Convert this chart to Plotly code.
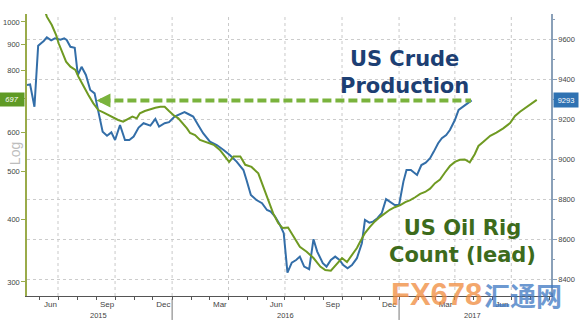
import math
import plotly.graph_objects as go

# Weekly US crude oil production (thousand barrels per day) - right axis
prod_dates = [
    "2015-05-12", "2015-05-17", "2015-05-24", "2015-05-30", "2015-06-08", "2015-06-13",
    "2015-06-20", "2015-06-26", "2015-07-05", "2015-07-11", "2015-07-15", "2015-07-21",
    "2015-07-28", "2015-08-02", "2015-08-08", "2015-08-15", "2015-08-22", "2015-08-29",
    "2015-09-03", "2015-09-11", "2015-09-18", "2015-09-25", "2015-10-01", "2015-10-09",
    "2015-10-17", "2015-10-24", "2015-10-31", "2015-11-08", "2015-11-16", "2015-11-27",
    "2015-12-05", "2015-12-11", "2015-12-20", "2015-12-27", "2016-01-05", "2016-01-12",
    "2016-01-21", "2016-01-27", "2016-02-04", "2016-02-12", "2016-02-20", "2016-03-02",
    "2016-03-13", "2016-03-24", "2016-04-03", "2016-04-14", "2016-04-25", "2016-04-30",
    "2016-05-07", "2016-05-16", "2016-05-25", "2016-06-02", "2016-06-08", "2016-06-15",
    "2016-06-23", "2016-06-29", "2016-07-05", "2016-07-12", "2016-07-19", "2016-07-25",
    "2016-08-01", "2016-08-09", "2016-08-16", "2016-08-22", "2016-08-31", "2016-09-06",
    "2016-09-13", "2016-09-20", "2016-09-27", "2016-10-03", "2016-10-10", "2016-10-17",
    "2016-10-25", "2016-11-02", "2016-11-07", "2016-11-14", "2016-11-20", "2016-11-27",
    "2016-12-04", "2016-12-11", "2016-12-17", "2016-12-25", "2017-01-01", "2017-01-08",
    "2017-01-13", "2017-01-20", "2017-01-30", "2017-02-06", "2017-02-13", "2017-02-20",
    "2017-02-26", "2017-03-05", "2017-03-11", "2017-03-18", "2017-03-24", "2017-04-01",
    "2017-04-07", "2017-04-15", "2017-04-20", "2017-04-28",
]
prod_values = [
    9370, 9373, 9261, 9566, 9590, 9608,
    9593, 9603, 9596, 9603, 9595, 9561,
    9556, 9420, 9461, 9420, 9345, 9328,
    9253, 9136, 9116, 9133, 9095, 9170,
    9095, 9095, 9112, 9157, 9179, 9167,
    9200, 9162, 9179, 9184, 9212, 9220,
    9234, 9225, 9212, 9170, 9129, 9087,
    9070, 9045, 9020, 8987, 8945, 8895,
    8820, 8795, 8779, 8745, 8737, 8712,
    8670, 8629, 8432, 8482, 8495, 8512,
    8462, 8449, 8599, 8537, 8479, 8462,
    8495, 8512, 8495, 8470, 8454, 8470,
    8504, 8579, 8695, 8682, 8687, 8704,
    8729, 8799, 8787, 8770, 8770, 8887,
    8945, 8945, 8920, 8970, 8982, 9004,
    9037, 9079, 9104, 9120, 9145, 9195,
    9245, 9262, 9275, 9293,
]

# US oil rig count, shifted forward in time as a leading indicator - left log axis
rig_dates = [
    "2015-06-07", "2015-06-13", "2015-06-21", "2015-06-28", "2015-07-02", "2015-07-07",
    "2015-07-14", "2015-07-21", "2015-07-29", "2015-08-03", "2015-08-11", "2015-08-19",
    "2015-08-27", "2015-09-04", "2015-09-12", "2015-09-20", "2015-09-28", "2015-10-06",
    "2015-10-14", "2015-10-23", "2015-10-29", "2015-11-05", "2015-11-10", "2015-11-18",
    "2015-11-27", "2015-12-05", "2015-12-13", "2015-12-20", "2015-12-27", "2016-01-03",
    "2016-01-11", "2016-01-18", "2016-01-25", "2016-01-30", "2016-02-07", "2016-02-15",
    "2016-02-26", "2016-03-08", "2016-03-18", "2016-03-29", "2016-04-02", "2016-04-09",
    "2016-04-20", "2016-04-28", "2016-05-08", "2016-05-19", "2016-05-27", "2016-06-04",
    "2016-06-12", "2016-06-20", "2016-06-27", "2016-07-06", "2016-07-15", "2016-07-25",
    "2016-08-05", "2016-08-16", "2016-08-27", "2016-09-04", "2016-09-13", "2016-09-21",
    "2016-10-01", "2016-10-09", "2016-10-17", "2016-10-25", "2016-10-30", "2016-11-07",
    "2016-11-15", "2016-11-23", "2016-12-01", "2016-12-09", "2016-12-17", "2016-12-25",
    "2017-01-03", "2017-01-11", "2017-01-19", "2017-01-27", "2017-02-04", "2017-02-12",
    "2017-02-20", "2017-02-28", "2017-03-08", "2017-03-16", "2017-03-24", "2017-04-01",
    "2017-04-09", "2017-04-17", "2017-04-25", "2017-05-03", "2017-05-09", "2017-05-17",
    "2017-05-28", "2017-06-07", "2017-06-18", "2017-06-29", "2017-07-07", "2017-07-15",
    "2017-07-26", "2017-08-03", "2017-08-11",
]
rig_counts = [
    1082, 1025, 986, 941, 906, 872,
    832, 813, 801, 776, 741, 713,
    686, 665, 658, 650, 642, 635,
    630, 640, 645, 640, 655, 662,
    668, 672, 675, 675, 662, 650,
    640, 626, 611, 598, 592, 579,
    572, 566, 553, 532, 523, 536,
    536, 516, 511, 496, 466, 438,
    412, 394, 385, 386, 370, 353,
    345, 335, 322, 317, 316, 324,
    335, 329, 340, 351, 361, 376,
    387, 397, 405, 412, 419, 424,
    428, 434, 438, 444, 451, 455,
    462, 474, 482, 498, 513, 523,
    528, 529, 522, 542, 563, 574,
    590, 599, 611, 626, 647, 660,
    675, 686, 697,
]

# Axis ticks and labels
month_label_dates = ["2015-06-19", "2015-09-18", "2015-12-18", "2016-03-18", "2016-06-17",
                     "2016-09-16", "2016-12-16", "2017-03-17", "2017-06-16"]
month_labels = ["Jun", "Sep", "Dec", "Mar", "Jun", "Sep", "Dec", "Mar", "Jun"]
year_label_dates = ["2015-09-05", "2016-07-02", "2017-04-30"]
year_labels = ["2015", "2016", "2017"]
year_breaks = ["2016-01-01", "2017-01-01"]
quarter_starts = ["2015-07-01", "2015-10-01", "2016-01-01", "2016-04-01", "2016-07-01",
                  "2016-10-01", "2017-01-01", "2017-04-01", "2017-07-01"]
rig_ticks = [300, 400, 500, 600, 700, 800, 900, 1000]
rig_ticktext = ["300", "400", "500", "600", "", "800", "900", "1000"]
prod_ticks = [8400, 8600, 8800, 9000, 9200, 9400, 9600]

BLUE = "#336ea8"
GREEN = "#6f9a22"
ARROW_GREEN = "#7ab33d"
TICK_FONT = dict(family="Liberation Sans, Arial, sans-serif", size=7.5, color="#444444")

latest_prod = prod_values[-1]
latest_rigs = rig_counts[-1]

fig = go.Figure()

fig.add_trace(go.Scatter(
    x=prod_dates, y=prod_values, mode="lines", yaxis="y",
    line=dict(color=BLUE, width=2), name="US Crude Production", showlegend=False,
))
fig.add_trace(go.Scatter(
    x=rig_dates, y=rig_counts, mode="lines", yaxis="y2",
    line=dict(color=GREEN, width=2), name="US Oil Rig Count (lead)", showlegend=False,
))

shapes = []
# dotted quarter gridlines
for d in quarter_starts:
    shapes.append(dict(type="line", xref="x", yref="paper", x0=d, x1=d, y0=0, y1=1,
                       line=dict(color="#c9c9c9", width=1, dash="dot"), layer="below"))
# year separators under the axis
for d in year_breaks:
    shapes.append(dict(type="line", xref="x", yref="paper", x0=d, x1=d, y0=-0.01, y1=-0.085,
                       line=dict(color="#777777", width=1)))
# dashed level line from the latest production print back to 2015
shapes.append(dict(type="line", xref="x", yref="y", x0="2015-09-09", x1="2017-04-27",
                   y0=latest_prod, y1=latest_prod,
                   line=dict(color=ARROW_GREEN, width=4, dash="9px,4px")))

annotations = []
for d, t in zip(year_label_dates, year_labels):
    annotations.append(dict(x=d, y=0, xref="x", yref="paper", text=t, showarrow=False,
                            xanchor="center", yanchor="top", yshift=-13, font=TICK_FONT))

# arrow head at the left end of the dashed line
annotations.append(dict(x="2015-09-01", y=latest_prod, xref="x", yref="y",
                        ax="2015-09-12", ay=latest_prod, axref="x", ayref="y",
                        showarrow=True, arrowhead=2, arrowsize=0.7, arrowwidth=4,
                        arrowcolor=ARROW_GREEN, text=""))

# value badges on the axes
annotations.append(dict(x=0, y=math.log10(latest_rigs), xref="paper", yref="y2",
                        text=f"<i>{latest_rigs}</i>", showarrow=False,
                        xanchor="right", yanchor="middle", xshift=-2,
                        bgcolor="#5f9a25", width=22, height=11,
                        font=dict(family="Liberation Sans, Arial", size=7.5, color="white")))
annotations.append(dict(x=1, y=latest_prod, xref="paper", yref="y",
                        text=f"{latest_prod}", showarrow=False,
                        xanchor="left", yanchor="middle", xshift=2,
                        bgcolor="#2f72b2", width=22, height=12,
                        font=dict(family="Liberation Sans, Arial", size=7.5, color="white")))

# "Log" axis note
annotations.append(dict(x=0, y=0.503, xref="paper", yref="paper", text="Log", textangle=-90,
                        showarrow=False, xanchor="center", yanchor="middle", xshift=-12,
                        font=dict(family="Liberation Sans, Arial", size=14, color="#bdbdbd")))

# series captions
annotations.append(dict(x=0.721, y=0.794, xref="paper", yref="paper",
                        xanchor="center", yanchor="middle",
                        text="<b>US Crude<br>Production</b>", showarrow=False,
                        font=dict(family="DejaVu Sans", size=21, color="#1d3f73")))
annotations.append(dict(x=0.832, y=0.195, xref="paper", yref="paper",
                        xanchor="center", yanchor="middle",
                        text="<b>US Oil Rig<br>Count (lead)</b>", showarrow=False,
                        font=dict(family="DejaVu Sans", size=21, color="#3d6b1c")))

# watermark
annotations.append(dict(x=0.781, y=0.004, xref="paper", yref="paper", text="<b>FX678</b>",
                        xanchor="center", yanchor="middle", showarrow=False, opacity=0.75,
                        font=dict(family="Liberation Sans Narrow, Liberation Sans", size=31,
                                  color="#f08a3c")))
annotations.append(dict(x=0.947, y=0.007, xref="paper", yref="paper", text="<b>汇通网</b>",
                        xanchor="center", yanchor="middle", showarrow=False, opacity=0.75,
                        font=dict(family="Noto Sans CJK SC", size=26, color="#3d77c2")))

fig.update_layout(
    width=580, height=331,
    margin=dict(l=27, r=29, t=14, b=35),
    paper_bgcolor="white", plot_bgcolor="white",
    showlegend=False,
    xaxis=dict(
        type="date", range=["2015-05-12", "2017-09-03"], automargin=False,
        tickmode="array", tickvals=month_label_dates, ticktext=month_labels,
        ticks="", showgrid=False, zeroline=False,
        showline=True, linecolor="#555555", linewidth=1,
        tickfont=dict(family="Liberation Sans, Arial, sans-serif", size=8, color="#444444"),
        minor=dict(ticks="outside", dtick="M1", tick0="2015-01-01", ticklen=3,
                   tickcolor="#555555", showgrid=False),
    ),
    yaxis=dict(
        side="right", range=[8315, 9725], automargin=False,
        tickmode="array", tickvals=prod_ticks,
        ticks="outside", ticklen=4, tickcolor="#8aa0b8",
        showline=True, linecolor="#8aa0b8", linewidth=1.5,
        showgrid=True, gridcolor="#cccccc", griddash="dot", gridwidth=1,
        zeroline=False, tickfont=TICK_FONT,
        minor=dict(ticks="outside", dtick=100, ticklen=2, tickcolor="#8aa0b8", showgrid=False),
    ),
    yaxis2=dict(
        overlaying="y", side="left", type="log", automargin=False,
        range=[math.log10(281), math.log10(1037.6)],
        tickmode="array", tickvals=rig_ticks, ticktext=rig_ticktext,
        ticks="outside", ticklen=4, tickcolor="#9aab4a",
        showline=True, linecolor="#9aab4a", linewidth=1.5,
        showgrid=False, zeroline=False, tickfont=TICK_FONT,
    ),
    shapes=shapes,
    annotations=annotations,
)

fig.write_html("out.html")
